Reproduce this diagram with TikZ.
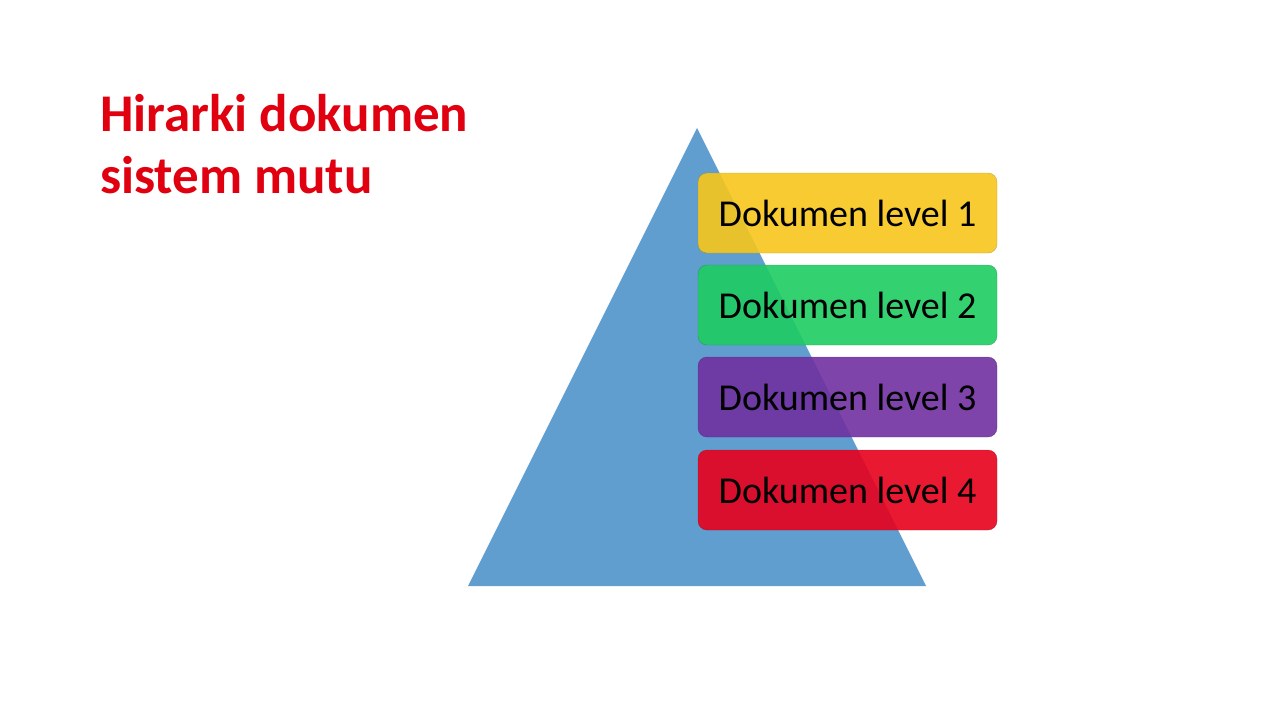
\documentclass[tikz,border=0pt]{standalone}
\usepackage{fontspec}
\setmainfont{Carlito}
\begin{document}
\begin{tikzpicture}[x=1pt,y=-1pt,
  lvl/.style={draw=#1!60!black, draw opacity=0.5, fill=#1, fill opacity=0.9, text opacity=1,
    rounded corners=9pt, minimum width=299pt, minimum height=80pt, inner sep=0pt,
    font=\fontsize{38}{44}\selectfont, text=black},
  lvl/.default=black]
\definecolor{tri}{HTML}{609ECF}
\definecolor{lyel}{HTML}{F7C61B}
\definecolor{lgrn}{HTML}{1FCC62}
\definecolor{lpur}{HTML}{7030A0}
\definecolor{lred}{HTML}{E8001C}
\definecolor{ttl}{HTML}{E0000F}
\useasboundingbox (0,0) rectangle (1280,720);
\fill[white] (0,0) rectangle (1280,720);
\coordinate (apex) at (697,128);
\coordinate (bl) at (468,586);
\coordinate (br) at (926,586);
\fill[tri] (apex) -- (br) -- (bl) -- cycle;
\node[lvl=lyel] (l1) at (847.5,213) {Dokumen level 1};
\node[lvl=lgrn] (l2) at (847.5,305) {Dokumen level 2};
\node[lvl=lpur] (l3) at (847.5,397) {Dokumen level 3};
\node[lvl=lred] (l4) at (847.5,490) {Dokumen level 4};
\node[anchor=north west, align=left, text=ttl, font=\bfseries\fontsize{53}{62}\selectfont, inner sep=0pt] (title) at (100,94) {Hirarki dokumen\\sistem mutu};
\end{tikzpicture}
\end{document}
